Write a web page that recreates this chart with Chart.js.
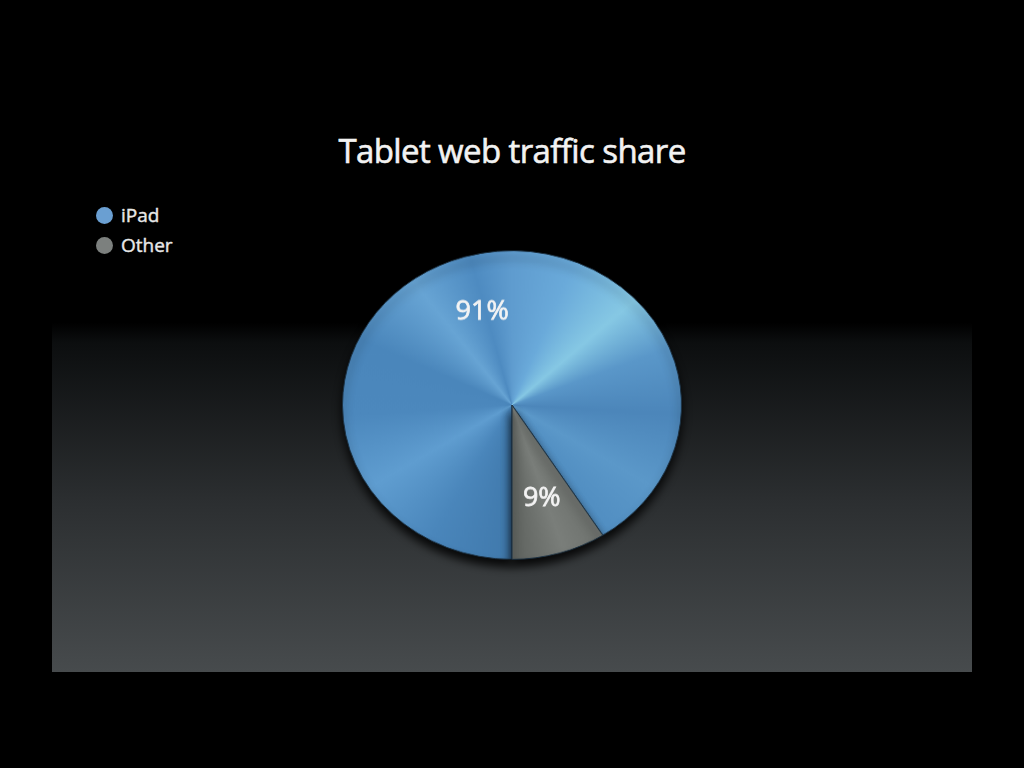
<!DOCTYPE html>
<html>
<head>
<meta charset="utf-8">
<script src="https://cdn.jsdelivr.net/npm/chart.js@4.4.1/dist/chart.umd.min.js"></script>
<style>
  html, body { margin: 0; padding: 0; background: #000; }
  body { width: 1024px; height: 768px; position: relative; overflow: hidden; font-family: "Open Sans", "Noto Sans", sans-serif; }
  #slide {
    position: absolute; left: 52px; top: 0; width: 920px; height: 672px;
    background: linear-gradient(to bottom, #000 0%, #000 48%, #0c0e0f 51%, #2c2f31 75%, #474b4d 100%);
  }
  #title {
    position: absolute; left: 0; width: 1024px; top: 128px; text-align: center;
    color: #f2f2f2; font-size: 33px; letter-spacing: -0.6px;
    -webkit-text-stroke: 0.6px #f2f2f2;
  }
  #legend { position: absolute; left: 96px; top: 203px; color: #e8e8e8; font-size: 19px; -webkit-text-stroke: 0.4px #e8e8e8; }
  #legend div { height: 30px; line-height: 24px; }
  #legend span.dot { display: inline-block; width: 17px; height: 17px; border-radius: 50%; vertical-align: -2px; margin-right: 8px; }
  #wrap { position: absolute; left: 312px; top: 205px; width: 400px; height: 400px; transform: scale(1, 0.91); transform-origin: 50% 50%; }
</style>
</head>
<body>
<div id="slide"></div>
<div id="title">Tablet web traffic share</div>
<div id="legend"></div>
<div id="wrap"><canvas id="pieChart"></canvas></div>
<script>
// chart data
const labels = ['iPad', 'Other'];
const shares = [91, 9];
const legendColors = ['#6a9fd2', '#7c807e'];

// the pie is seen slightly tilted, so it is squashed a bit vertically
const tilt = 0.91;

// legend
const legendBox = document.getElementById('legend');
labels.forEach((name, i) => {
    const row = document.createElement('div');
    row.innerHTML = '<span class="dot" style="background:' + legendColors[i] + '"></span>' + name;
    legendBox.appendChild(row);
});

// brushed metal fill, built once the chart area is known
function metalFill(context, index) {
    const chart = context.chart;
    const area = chart.chartArea;
    if (!area) return legendColors[index];
    const c = chart.ctx;
    const cx = (area.left + area.right) / 2;
    const cy = (area.top + area.bottom) / 2;
    const g = c.createConicGradient(-Math.PI / 2, cx, cy);
    if (index === 0) {
        g.addColorStop(0.00, '#5f9ccf');
        g.addColorStop(0.06, '#6aaada');
        g.addColorStop(0.13, '#86c8e4');
        g.addColorStop(0.19, '#5a97c9');
        g.addColorStop(0.26, '#4c86ba');
        g.addColorStop(0.34, '#5b98c9');
        g.addColorStop(0.42, '#4f8cc0');
        g.addColorStop(0.50, '#4079ac');
        g.addColorStop(0.58, '#4a86bb');
        g.addColorStop(0.66, '#5f9dd0');
        g.addColorStop(0.74, '#4c88bd');
        g.addColorStop(0.82, '#4a86bb');
        g.addColorStop(0.90, '#67a4d4');
        g.addColorStop(0.96, '#4e8bc1');
        g.addColorStop(1.00, '#5f9ccf');
    } else {
        g.addColorStop(0.00, '#707470');
        g.addColorStop(0.40, '#6a6e6a');
        g.addColorStop(0.45, '#7a7e7a');
        g.addColorStop(0.50, '#5e625e');
        g.addColorStop(1.00, '#707470');
    }
    return g;
}

// percentage labels on the slices
const sliceLabels = {
    id: 'sliceLabels',
    afterDatasetsDraw(chart) {
        const c = chart.ctx;
        const meta = chart.getDatasetMeta(0);
        meta.data.forEach((arc, i) => {
            const p = arc.getProps(['x', 'y', 'startAngle', 'endAngle', 'outerRadius'], true);
            const mid = (p.startAngle + p.endAngle) / 2;
            const r = p.outerRadius * 0.63;
            c.save();
            c.translate(p.x + Math.cos(mid) * r, p.y + Math.sin(mid) * r);
            c.scale(1, 1 / tilt);
            c.fillStyle = '#f4f4f4';
            c.strokeStyle = '#f4f4f4';
            c.lineWidth = 0.7;
            c.font = '27px "Open Sans", "Noto Sans", sans-serif';
            c.textAlign = 'center';
            c.textBaseline = 'middle';
            c.fillText(shares[i] + '%', 0, 0);
            c.strokeText(shares[i] + '%', 0, 0);
            c.restore();
        });
    }
};

// soft drop shadow under the pie
const pieShadow = {
    id: 'pieShadow',
    beforeDatasetsDraw(chart) {
        const c = chart.ctx;
        c.save();
        c.shadowColor = 'rgba(0,0,0,0.85)';
        c.shadowBlur = 10;
        c.shadowOffsetY = 8;
    },
    afterDatasetsDraw(chart) {
        chart.ctx.restore();
    }
};

const ctx = document.getElementById('pieChart').getContext('2d');

const pieChart = new Chart(ctx, {
    type: 'pie',
    data: {
        labels: labels,
        datasets: [{
            data: shares,
            backgroundColor: (context) => metalFill(context, context.dataIndex),
            borderColor: '#1d3345',
            borderWidth: 1
        }]
    },
    options: {
        responsive: true,
        maintainAspectRatio: false,
        animation: false,
        rotation: 180,
        layout: { padding: 30 },
        plugins: {
            legend: { display: false },
            tooltip: { enabled: false }
        }
    },
    plugins: [pieShadow, sliceLabels]
});
</script>
</body>
</html>
